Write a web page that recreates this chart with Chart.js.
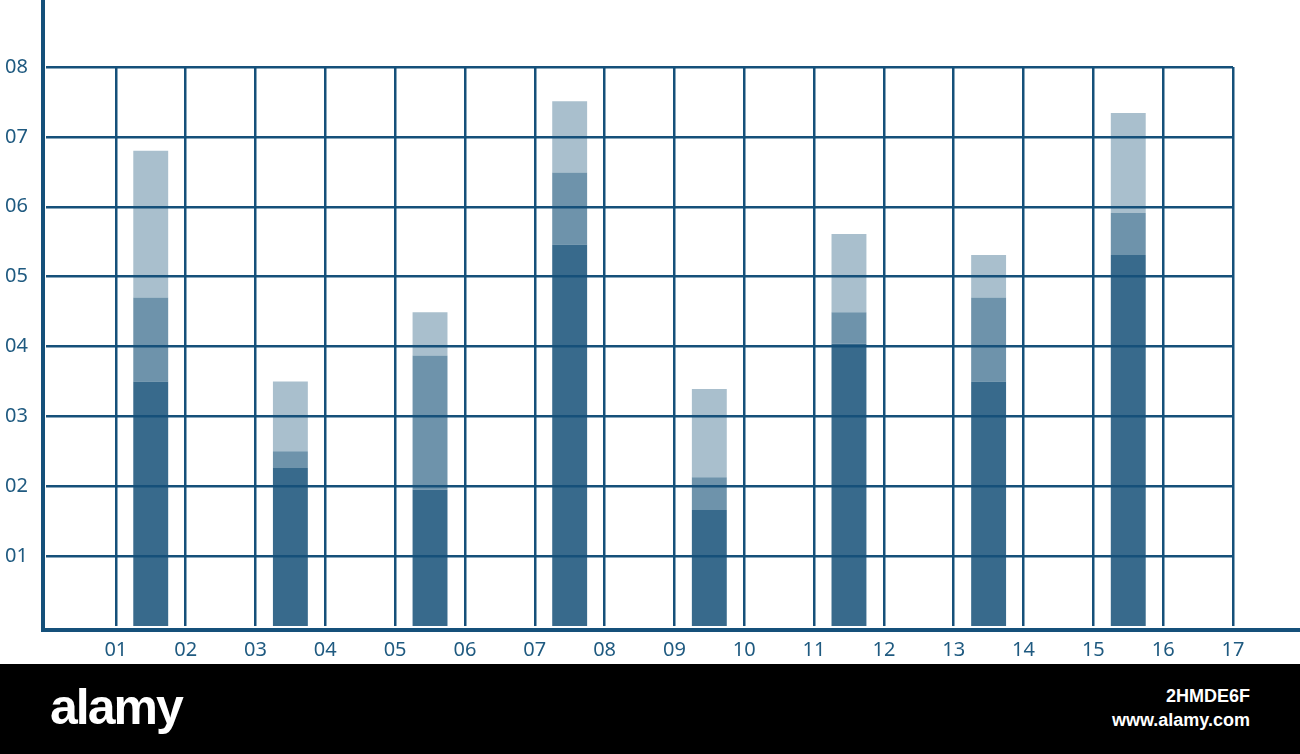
<!DOCTYPE html>
<html>
<head>
<meta charset="utf-8">
<script src="https://cdn.jsdelivr.net/npm/chart.js@4/dist/chart.umd.min.js"></script>
<style>
  body { margin: 0; width: 1300px; height: 754px; background: #fff; overflow: hidden; font-family: "Liberation Sans", Arial, sans-serif; }
  #wrap { width: 1300px; height: 664px; }
  #band { position: relative; width: 1300px; height: 90px; background: #000; color: #fff; }
  #logo { position: absolute; left: 50px; top: 14px; font-size: 50px; font-weight: bold; letter-spacing: -2px; }
  #code { position: absolute; right: 50px; top: 22px; font-size: 18px; font-weight: bold; }
  #site { position: absolute; right: 50px; top: 46px; font-size: 18px; font-weight: bold; }
</style>
</head>
<body>
<div id="wrap"><canvas id="chart" width="1300" height="664"></canvas></div>
<div id="band"><span id="logo">alamy</span><span id="code">2HMDE6F</span><span id="site">www.alamy.com</span></div>
<script>
// bar centres sit between two grid columns
const barPositions = [1.5, 3.5, 5.5, 7.5, 9.5, 11.5, 13.5, 15.5];
// stacked segment heights, bottom to top
const darkValues  = [3.5, 2.26, 1.95, 5.46, 1.66, 4.04, 3.5, 5.31];
const midValues   = [1.2, 0.24, 1.92, 1.03, 0.47, 0.45, 1.2, 0.6];
const lightValues = [2.1, 1.0, 0.62, 1.02, 1.26, 1.12, 0.61, 1.43];
const xTicks = [1,2,3,4,5,6,7,8,9,10,11,12,13,14,15,16,17];
const yTicks = [1,2,3,4,5,6,7,8];
const pad2 = v => String(v).padStart(2, '0');

const gridColor = '#15507a';
const textColor = '#1f5a80';

const toPoints = vals => vals.map((v, i) => ({ x: barPositions[i], y: v }));

// draws the long axis lines that run past the grid
const axisLines = {
  id: 'axisLines',
  afterDraw(chart) {
    const { ctx, chartArea } = chart;
    ctx.save();
    ctx.strokeStyle = gridColor;
    ctx.lineWidth = 4;
    ctx.beginPath();
    ctx.moveTo(chartArea.left - 3, 0);
    ctx.lineTo(chartArea.left - 3, chartArea.bottom + 4);
    ctx.lineTo(chart.width, chartArea.bottom + 4);
    ctx.stroke();
    ctx.restore();
  }
};

new Chart(document.getElementById('chart'), {
  type: 'bar',
  data: {
    datasets: [
      { data: toPoints(darkValues),  backgroundColor: '#386a8c' },
      { data: toPoints(midValues),   backgroundColor: '#6e93ab' },
      { data: toPoints(lightValues), backgroundColor: '#a9bfcd' }
    ]
  },
  options: {
    responsive: false,
    animation: false,
    layout: { padding: { top: 67, right: 67, left: 0, bottom: 0 } },
    datasets: { bar: { categoryPercentage: 1, barPercentage: 0.5 } },
    plugins: { legend: { display: false }, tooltip: { enabled: false } },
    scales: {
      x: {
        type: 'linear', min: 0, max: 17, stacked: true, offset: false,
        afterBuildTicks: s => { s.ticks = xTicks.map(v => ({ value: v })); },
        afterFit: s => { s.height = 38; },
        border: { display: false },
        grid: { color: gridColor, lineWidth: 2.5, drawTicks: false, offset: false, z: 1 },
        ticks: { color: textColor, font: { size: 20, family: 'Noto Sans' }, padding: 12, callback: v => pad2(v) }
      },
      y: {
        min: 0, max: 8, stacked: true,
        afterBuildTicks: s => { s.ticks = yTicks.map(v => ({ value: v })); },
        afterFit: s => { s.width = 46; },
        border: { display: false },
        grid: { color: gridColor, lineWidth: 2.5, drawTicks: false, z: 1 },
        ticks: { color: textColor, font: { size: 20, family: 'Noto Sans' }, padding: 18, callback: v => pad2(v) }
      }
    }
  },
  plugins: [axisLines]
});
</script>
</body>
</html>
